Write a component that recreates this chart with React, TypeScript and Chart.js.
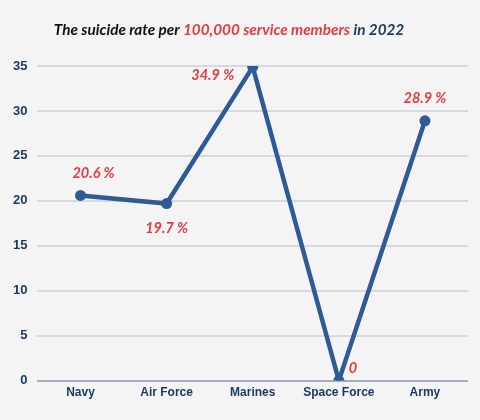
import React, { useEffect, useRef } from 'react';
import { Chart, registerables, Plugin } from 'chart.js';

Chart.register(...registerables);

const branches = ['Navy', 'Air Force', 'Marines', 'Space Force', 'Army'];
const rates = [20.6, 19.7, 34.9, 0, 28.9];
const rateLabels = ['20.6 %', '19.7 %', '34.9 %', '0', '28.9 %'];
const yTicks = [0, 5, 10, 15, 20, 25, 30, 35];

const NAVY = '#1d3a63';
const LINE = '#2e5b95';
const RED = '#e63a3f';
const BG = '#f4f4f5';

// where each value label sits relative to its point
const labelPlacement: { dx: number; dy: number; align: CanvasTextAlign }[] = [
    { dx: 13, dy: -22, align: 'center' },
    { dx: 0, dy: 25, align: 'center' },
    { dx: -40, dy: 8, align: 'center' },
    { dx: 10, dy: -12, align: 'left' },
    { dx: 0, dy: -23, align: 'center' },
];

const titlePlugin: Plugin<'line'> = {
    id: 'mixedTitle',
    afterDraw(chart) {
        const ctx = chart.ctx;
        const parts: [string, string][] = [
            ['The suicide rate per ', '#111111'],
            ['100,000 service members', RED],
            [' in 2022', NAVY],
        ];
        ctx.save();
        ctx.font = 'italic bold 15.3px Lato';
        ctx.textBaseline = 'middle';
        ctx.textAlign = 'left';
        const total = parts.reduce((s, p) => s + ctx.measureText(p[0]).width, 0);
        let x = 229 - total / 2;
        for (const [text, color] of parts) {
            ctx.fillStyle = color;
            ctx.fillText(text, x, 30);
            x += ctx.measureText(text).width;
        }
        ctx.restore();
    },
};

const valueLabelPlugin: Plugin<'line'> = {
    id: 'valueLabels',
    afterDatasetsDraw(chart) {
        const ctx = chart.ctx;
        const meta = chart.getDatasetMeta(0);
        ctx.save();
        ctx.font = 'italic bold 14.5px Lato';
        ctx.fillStyle = RED;
        ctx.textBaseline = 'middle';
        meta.data.forEach((pt, i) => {
            const p = labelPlacement[i];
            ctx.textAlign = p.align;
            ctx.fillText(rateLabels[i], pt.x + p.dx, pt.y + p.dy);
        });
        ctx.restore();
    },
};

const App: React.FC = () => {
    const chartRef = useRef<HTMLCanvasElement | null>(null);

    useEffect(() => {
        document.body.style.margin = '0';
        document.body.style.background = BG;
        const ctx = chartRef.current?.getContext('2d');
        if (!ctx) {
            return;
        }

        const myChart = new Chart(ctx, {
            type: 'line',
            data: {
                labels: branches,
                datasets: [
                    {
                        data: rates,
                        borderColor: LINE,
                        backgroundColor: LINE,
                        borderWidth: 4.5,
                        pointRadius: 5.5,
                        pointBackgroundColor: LINE,
                        pointBorderWidth: 0,
                        tension: 0,
                        fill: false,
                    },
                ],
            },
            options: {
                animation: false,
                responsive: false,
                layout: { padding: { top: 66, left: 3, right: 12, bottom: 15 } },
                plugins: {
                    legend: { display: false },
                    tooltip: { enabled: false },
                },
                scales: {
                    x: {
                        offset: true,
                        grid: { display: false, drawTicks: false },
                        border: { display: false },
                        ticks: {
                            color: NAVY,
                            font: { family: 'Liberation Sans', size: 12, weight: 'bold' },
                            padding: 5,
                            maxRotation: 0,
                        },
                    },
                    y: {
                        min: 0,
                        max: 35,
                        afterBuildTicks: (axis) => {
                            axis.ticks = yTicks.map((v) => ({ value: v }));
                        },
                        grid: {
                            color: (c) => (c.tick && c.tick.value === 0 ? '#a3aec0' : '#d5d9e0'),
                            lineWidth: 2,
                            drawTicks: false,
                        },
                        border: { display: false },
                        ticks: {
                            color: NAVY,
                            font: { family: 'Liberation Sans', size: 13, weight: 'bold' },
                            padding: 10,
                        },
                    },
                },
            },
            plugins: [titlePlugin, valueLabelPlugin],
        });

        return () => {
            myChart.destroy();
        };
    }, []);

    return (
        <div style={{ width: 480, height: 420, background: BG }}>
            <canvas ref={chartRef} width={480} height={420} />
        </div>
    );
};

export default App;
